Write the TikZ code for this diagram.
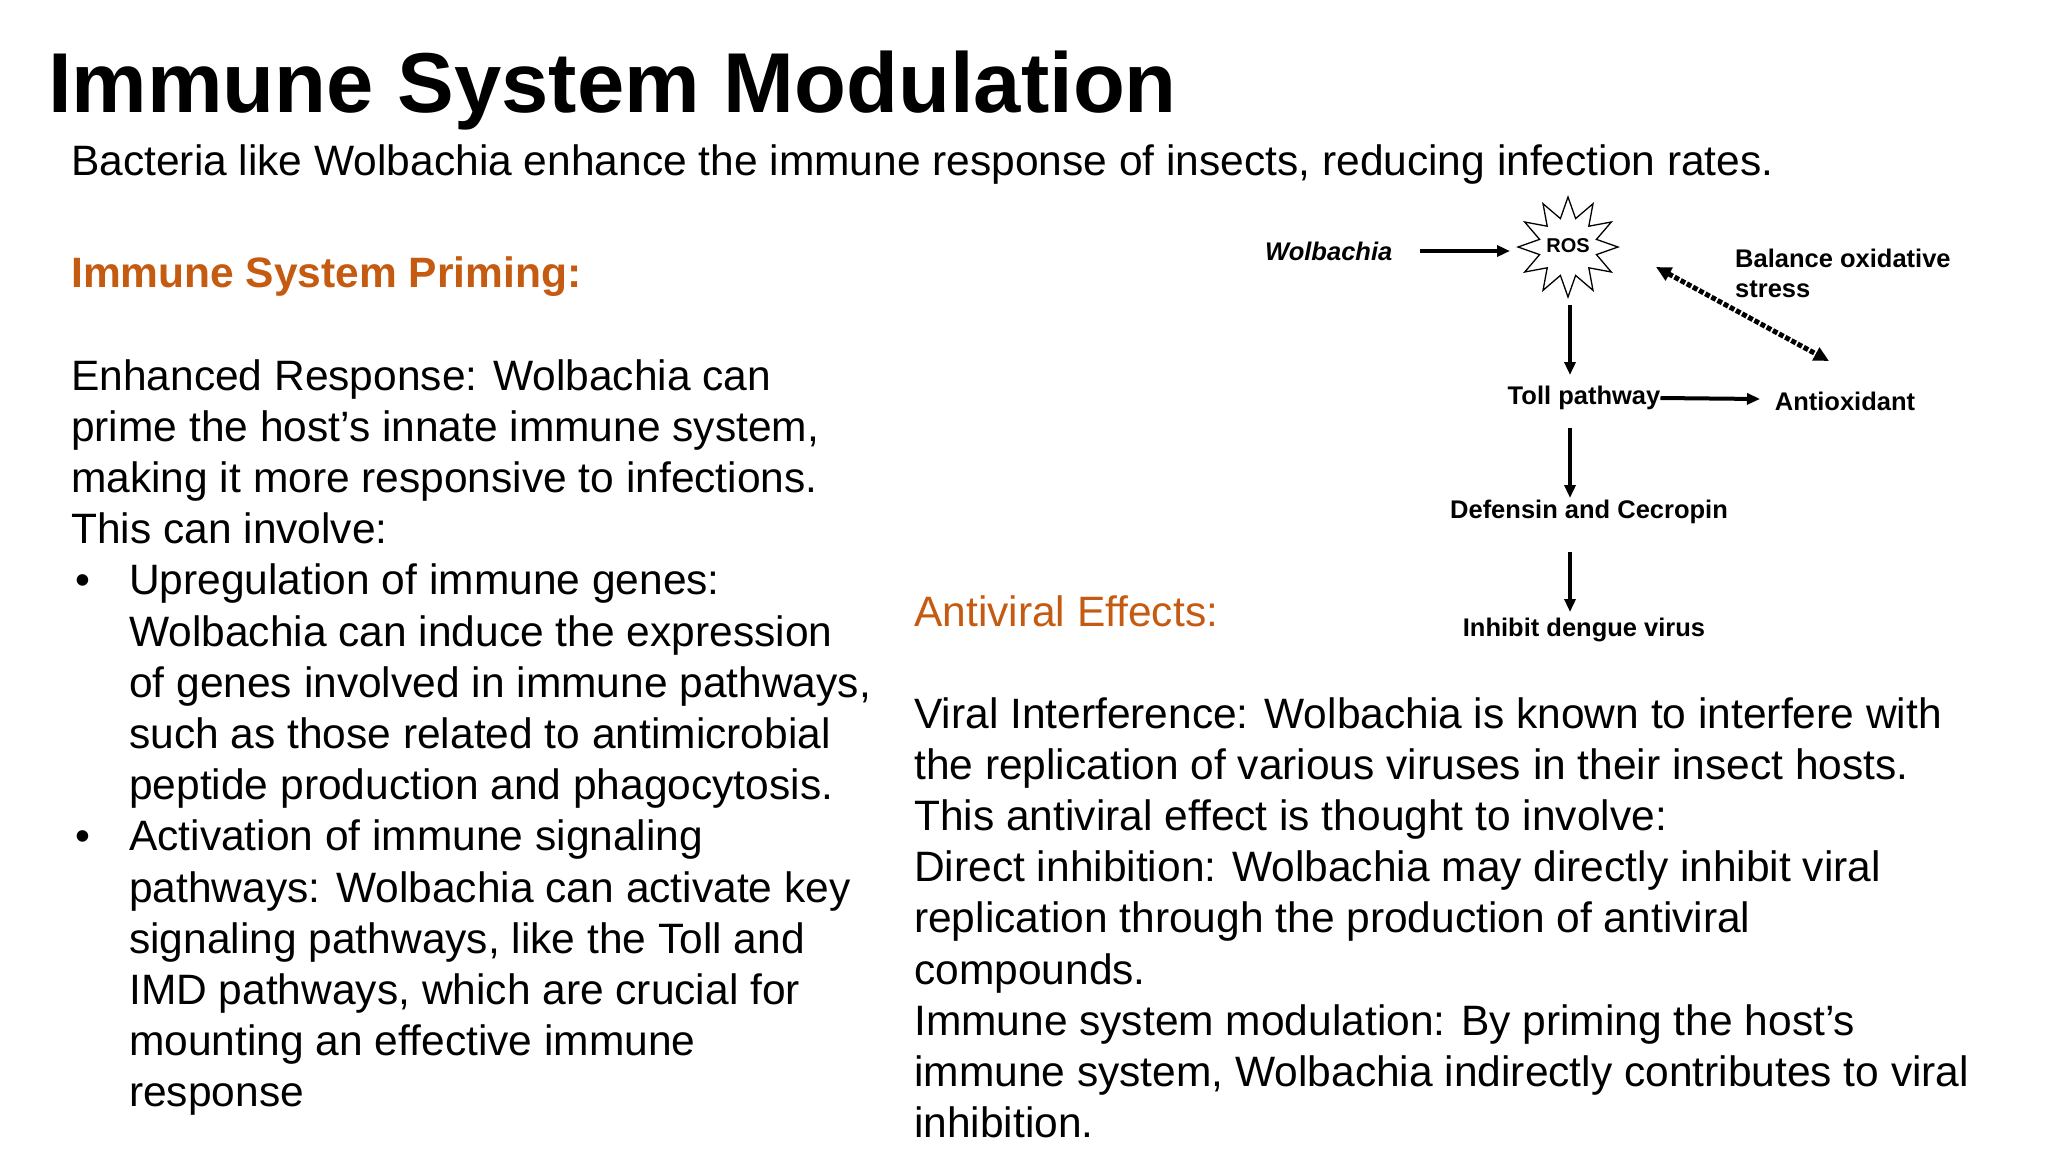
\documentclass[tikz,border=0pt]{standalone}
\usepackage{fontspec}
\setmainfont{Liberation Sans}
\usetikzlibrary{shapes.geometric,arrows.meta}
\definecolor{orng}{HTML}{C55A11}
\begin{document}
\begin{tikzpicture}[x=1pt,y=-1pt,
 body/.style={anchor=base west,inner sep=0,font=\fontsize{42.5}{50}\selectfont},
 dg/.style={inner sep=0,font=\fontsize{25.5}{30}\selectfont\bfseries},
 arr/.style={-{Triangle[length=13pt,width=11pt]},line width=4pt}]
\useasboundingbox (0,0) rectangle (2048,1152);
\fill[white] (0,0) rectangle (2048,1152);
\node[anchor=base west,inner sep=0,font=\fontsize{85}{92}\selectfont\bfseries] (title) at (48,112) {Immune System Modulation};
\node[body] (sub) at (71,175) {Bacteria like Wolbachia enhance the immune response of insects, reducing infection rates.};
\node[body,text=orng,font=\fontsize{42.5}{50}\selectfont\bfseries] (h1) at (71,287) {Immune System Priming:};
\foreach \t [count=\i] in {Enhanced Response: Wolbachia can,{prime the host's innate immune system,},{making it more responsive to infections.},This can involve:}
  \node[body] (l\i) at (71,{390+(\i-1)*51.2}) {\t};
\foreach \t [count=\i] in {Upregulation of immune genes:,Wolbachia can induce the expression,{of genes involved in immune pathways,},such as those related to antimicrobial,peptide production and phagocytosis.,Activation of immune signaling,pathways: Wolbachia can activate key,{signaling pathways, like the Toll and},{IMD pathways, which are crucial for},mounting an effective immune,response}
  \node[body] (b\i) at (129,{594.8+(\i-1)*51.2}) {\t};
\node[body] (bu1) at (75,594.8) {\textbullet};
\node[body] (bu2) at (75,850.8) {\textbullet};
\node[body,text=orng] (h2) at (914,626) {Antiviral Effects:};
\foreach \t [count=\i] in {Viral Interference: Wolbachia is known to interfere with,the replication of various viruses in their insect hosts.,This antiviral effect is thought to involve:,Direct inhibition: Wolbachia may directly inhibit viral,replication through the production of antiviral,compounds.,Immune system modulation: By priming the host's,{immune system, Wolbachia indirectly contributes to viral},inhibition.}
  \node[body] (r\i) at (914,{728+(\i-1)*51.2}) {\t};
% diagram
\node[dg,anchor=west,font=\fontsize{25.5}{30}\selectfont\bfseries\itshape] (wol) at (1265,251) {Wolbachia};
\node[star,star points=12,star point ratio=1.7,draw,line width=1.3pt,minimum size=100pt,inner sep=0] (ros) at (1568,247) {};
\node[inner sep=0,font=\fontsize{20}{22}\selectfont\bfseries] (rost) at (1568,246) {ROS};
\node[dg] (toll) at (1584,398) {Toll pathway};
\node[dg] (anti) at (1845,401) {Antioxidant};
\node[dg,anchor=north west,align=left] (bal) at (1735,249) {Balance oxidative\\stress};
\node[dg] (def) at (1589,512) {Defensin and Cecropin};
\node[dg] (inh) at (1584,630) {Inhibit dengue virus};
\coordinate (r1) at (1656,267);
\coordinate (a1) at (1829,361);
\draw[arr] (1420,251) -- (1510,251);
\draw[arr] (1570,305) -- (1570,375);
\draw[arr] (toll.east) -- (1760,399);
\draw[arr] (1570,428) -- (1570,498);
\draw[arr] (1570,552) -- (1570,612);
\draw[line width=5pt,dotted,{Triangle[length=15pt,width=14pt]}-{Triangle[length=15pt,width=14pt]}] (r1) -- (a1);
\end{tikzpicture}
\end{document}
